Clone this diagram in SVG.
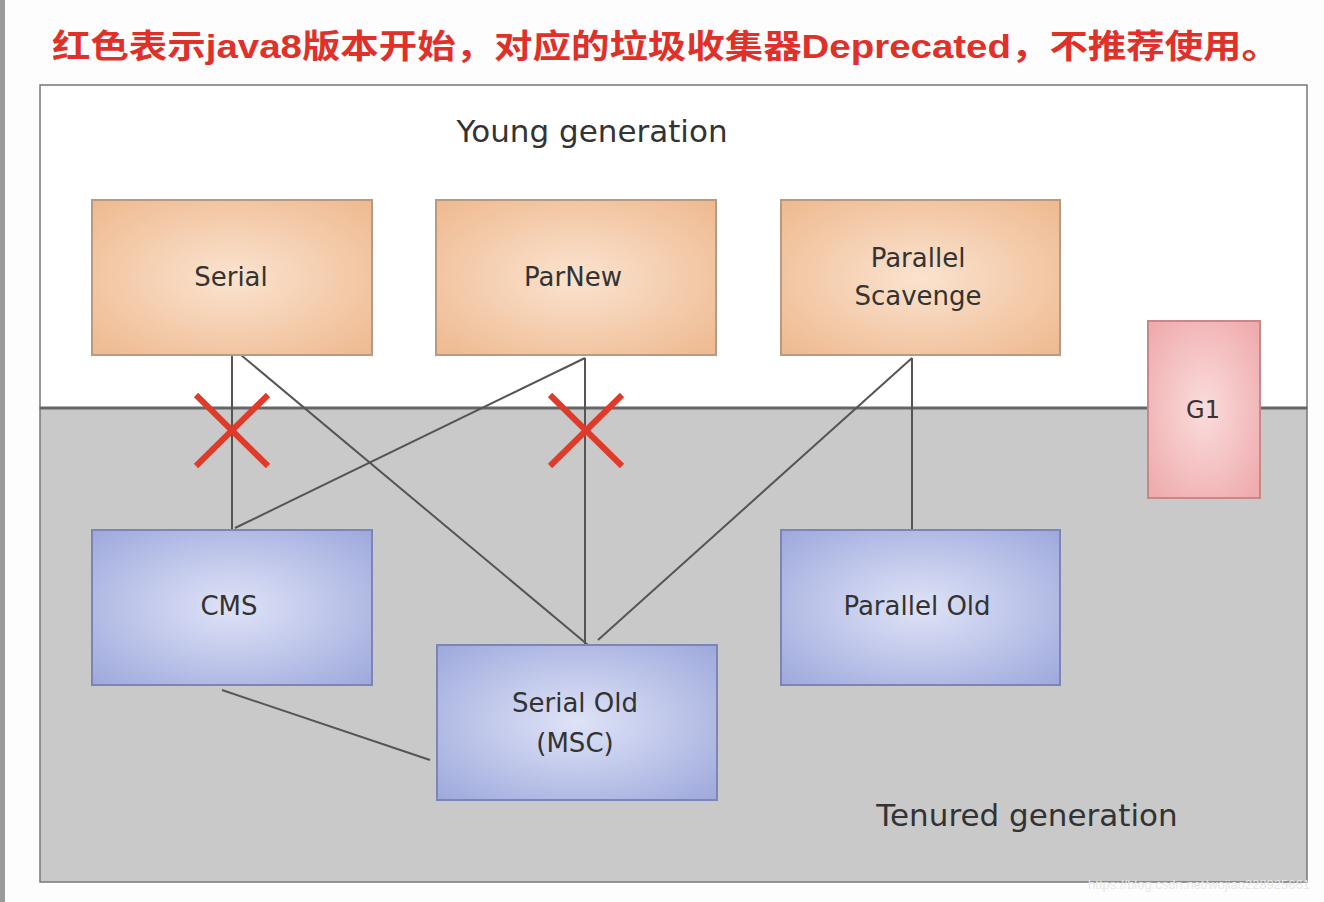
<svg xmlns="http://www.w3.org/2000/svg" width="1324" height="902" viewBox="0 0 1324 902">
<style>
.t{font-family:"DejaVu Sans","Liberation Sans",sans-serif;fill:#333;text-anchor:middle}
.n{font-size:26px}
.h{font-size:31px}
.ln{stroke:#555;stroke-width:2;fill:none}
.x{stroke:#e03a2a;stroke-width:6;stroke-linecap:butt}
.o{fill:url(#go);stroke:#b89a80;stroke-width:2}
.b{fill:url(#gb);stroke:#7b86b8;stroke-width:2}
</style>
<defs>
<radialGradient id="go" cx="50%" cy="50%" r="70%"><stop offset="0" stop-color="#fbe3cf"/><stop offset="1" stop-color="#eeb98f"/></radialGradient>
<radialGradient id="gb" cx="50%" cy="50%" r="70%"><stop offset="0" stop-color="#dfe3f7"/><stop offset="1" stop-color="#9ea9dc"/></radialGradient>
<radialGradient id="gp" cx="50%" cy="50%" r="70%"><stop offset="0" stop-color="#fbdcdc"/><stop offset="1" stop-color="#eea8aa"/></radialGradient>
</defs>
<rect width="1324" height="902" fill="#fdfdfd"/>
<rect x="0" y="0" width="5" height="902" fill="#9a9a9a"/>
<text x="52" y="58" textLength="1228" lengthAdjust="spacingAndGlyphs" style="font-family:'Liberation Sans','Noto Sans CJK SC',sans-serif;font-size:33px;font-weight:bold;fill:#e0302a">红色表示java8版本开始，对应的垃圾收集器Deprecated，不推荐使用。</text>
<rect x="40" y="85" width="1267" height="323" fill="#ffffff" stroke="#777" stroke-width="1.5"/>
<rect x="40" y="408" width="1267" height="474" fill="#c9c9c9" stroke="#777" stroke-width="1.5"/>
<line x1="40" y1="408" x2="1307" y2="408" stroke="#666" stroke-width="3"/>
<text class="t h" x="592" y="142">Young generation</text>
<text class="t h" x="1027" y="826">Tenured generation</text>
<g id="connectors">
<line class="ln" x1="232" y1="350" x2="232" y2="530"/>
<line class="ln" x1="235" y1="350" x2="588" y2="645"/>
<line class="ln" x1="585" y1="358" x2="235" y2="528"/>
<line class="ln" x1="585" y1="358" x2="585" y2="645"/>
<line class="ln" x1="912" y1="358" x2="598" y2="640"/>
<line class="ln" x1="912" y1="358" x2="912" y2="530"/>
<line class="ln" x1="222" y1="690" x2="430" y2="760"/>
<line class="x" x1="196" y1="395" x2="268" y2="466"/><line class="x" x1="268" y1="395" x2="196" y2="466"/>
<line class="x" x1="550" y1="395" x2="622" y2="466"/><line class="x" x1="622" y1="395" x2="550" y2="466"/>
</g>
<g id="serial"><rect class="o" x="92" y="200" width="280" height="155"/><text class="t n" x="231" y="286">Serial</text></g>
<g id="parnew"><rect class="o" x="436" y="200" width="280" height="155"/><text class="t n" x="573" y="286">ParNew</text></g>
<g id="parallel-scavenge"><rect class="o" x="781" y="200" width="279" height="155"/><text class="t n" x="918" y="267">Parallel</text><text class="t n" x="918" y="305">Scavenge</text></g>
<g id="g1"><rect x="1148" y="321" width="112" height="177" fill="url(#gp)" stroke="#c98888" stroke-width="2"/><text class="t" style="font-size:24px" x="1203" y="418">G1</text></g>
<g id="cms"><rect class="b" x="92" y="530" width="280" height="155"/><text class="t n" x="229" y="615">CMS</text></g>
<g id="serial-old"><rect class="b" x="437" y="645" width="280" height="155"/><text class="t n" x="575" y="712">Serial Old</text><text class="t n" x="575" y="752">(MSC)</text></g>
<g id="parallel-old"><rect class="b" x="781" y="530" width="279" height="155"/><text class="t n" x="917" y="615">Parallel Old</text></g>
<text x="1310" y="889" style="font-family:'Liberation Sans',sans-serif;font-size:13px;fill:#e8e8e8;text-anchor:end">https://blog.csdn.net/wojiao228925661</text>
</svg>
